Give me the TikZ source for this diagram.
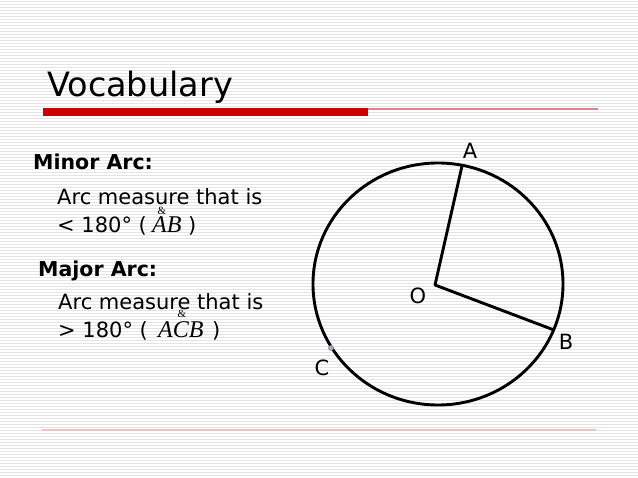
\documentclass[tikz,border=0pt]{standalone}
\usepackage{fontspec}
\setmainfont{DejaVu Sans}
\newfontfamily\arcfont{Liberation Serif}
\usetikzlibrary{positioning}
\definecolor{rulered}{RGB}{204,0,0}
\definecolor{rulepink}{RGB}{226,130,130}
\definecolor{linegray}{RGB}{228,228,228}
\definecolor{dotblue}{RGB}{160,180,196}
\begin{document}
\begin{tikzpicture}[x=1pt,y=-1pt,
  txt/.style={anchor=base west,inner sep=0pt,font=\fontsize{21}{24}\selectfont},
  head/.style={anchor=base west,inner sep=0pt,font=\fontsize{20.5}{24}\selectfont\bfseries},
  arcname/.style={anchor=base west,inner sep=0pt,font=\fontsize{24}{28}\selectfont\arcfont\itshape},
  amp/.style={inner sep=0pt,font=\fontsize{11}{12}\selectfont\arcfont},
  ptlabel/.style={inner sep=0pt,font=\fontsize{21}{24}\selectfont}]
\useasboundingbox (0,0) rectangle (638,478);
\fill[white] (0,0) rectangle (638,478);
% ruled background
\foreach \y in {1.5,4.5,...,477}
  \draw[linegray,line width=1pt] (0,\y) -- (638,\y);

% title and rules
\node[anchor=base west,inner sep=0pt,font=\fontsize{33.5}{38}\selectfont] (title) at (47,97) {Vocabulary};
\fill[rulered] (43,108) rectangle (368,116.5);
\draw[rulepink,line width=1.8pt] (368,109) -- (598,109);
\draw[rulepink!50,line width=1.5pt] (42,430) -- (596,430);

% minor arc
\node[head] (minor) at (33,170) {Minor Arc:};
\node[txt] (minor1) at (57,205) {Arc measure that is};
\node[txt] (minor2) at (57,233) {< 180° (};
\node[arcname] (minorAB) at (152,233) {AB};
\node[amp] (minoramp) at (162,210.5) {\&};
\node[txt] (minorclose) at (188,233) {)};

% major arc
\node[head] (major) at (38,277) {Major Arc:};
\node[txt] (major1) at (58,310) {Arc measure that is};
\node[txt] (major2) at (58,338) {> 180° (};
\node[arcname] (majorACB) at (158,338) {ACB};
\node[amp] (majoramp) at (182,314) {\&};
\node[txt] (majorclose) at (212,338) {)};

% circle
\coordinate (O) at (435,285);
\coordinate (A) at (462,166);
\coordinate (B) at (554,330);
\draw[line width=2.9pt] (438,284) ellipse [x radius=125,y radius=121];
\draw[line width=2.9pt,line join=round] (A) -- (O) -- (B);
\node[circle,draw=gray,fill=dotblue,line width=0.6pt,inner sep=0pt,minimum size=5pt] (C) at (331,348) {};

\node[ptlabel] (labA) at (470,151) {A};
\node[ptlabel] (labO) at (418,296) {O};
\node[ptlabel] (labB) at (566,342) {B};
\node[ptlabel] (labC) at (322,368) {C};
\end{tikzpicture}
\end{document}
